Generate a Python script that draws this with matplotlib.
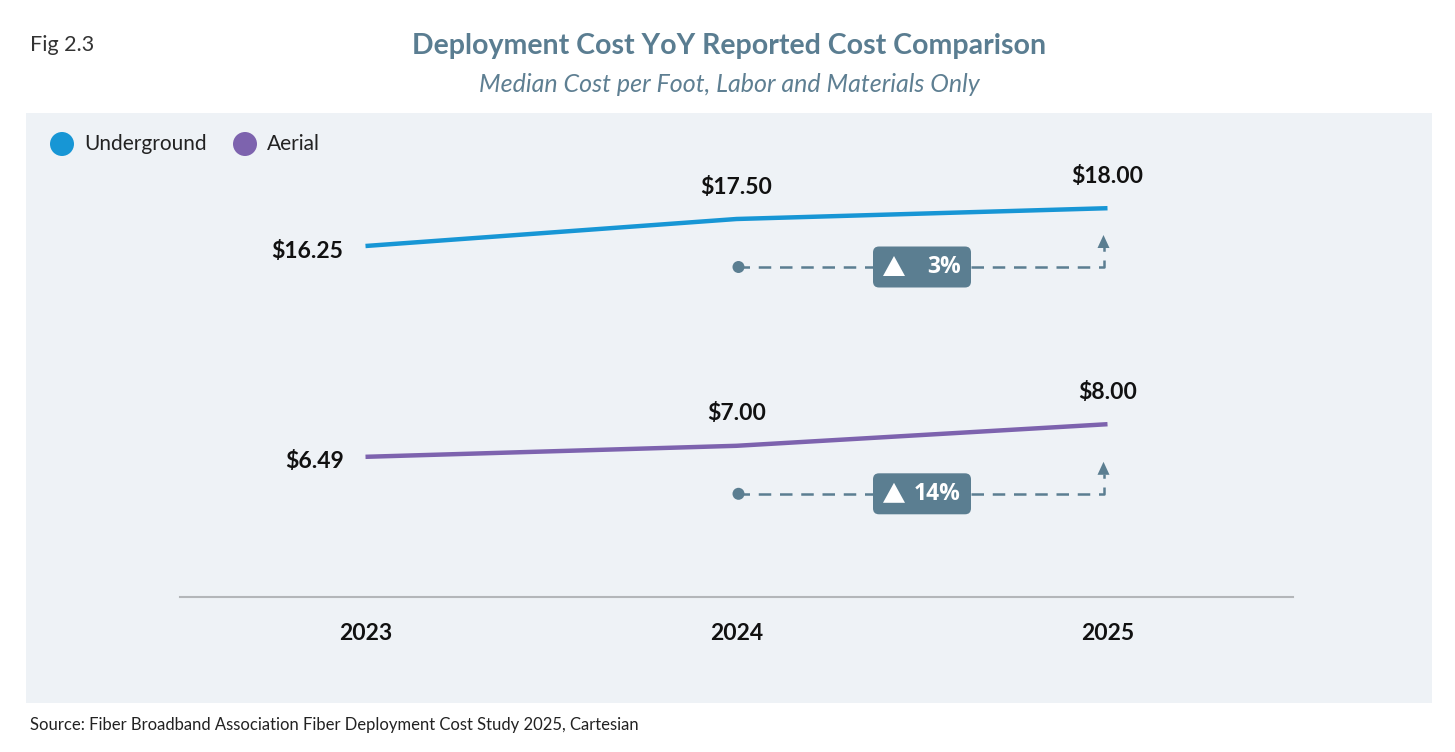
import matplotlib
matplotlib.use("Agg")
import matplotlib.pyplot as plt
from matplotlib.patches import Rectangle, FancyBboxPatch, Polygon, Circle
from matplotlib.lines import Line2D
from matplotlib.transforms import IdentityTransform

plt.rcParams['font.family'] = ['Lato', 'DejaVu Sans']

years = [2023, 2024, 2025]
year_labels = ["2023", "2024", "2025"]
underground = [16.25, 17.50, 18.00]
aerial = [6.49, 7.00, 8.00]
ug_labels = ["$16.25", "$17.50", "$18.00"]
ae_labels = ["$6.49", "$7.00", "$8.00"]
ug_change = "3%"
ae_change = "14%"

BLUE = "#1796d5"
PURPLE = "#7d63ae"
SLATE = "#5b7e91"
PANEL = "#eef2f6"

W, H = 1455, 752
fig = plt.figure(figsize=(W / 100, H / 100), dpi=100)
fig.patch.set_facecolor("white")

def px(x, y):
    return x / W, 1 - y / H

# panel background
fig.patches.append(Rectangle(px(26, 703), (1432 - 26) / W, (703 - 113) / H,
                             transform=fig.transFigure, facecolor=PANEL,
                             edgecolor="none", zorder=-5))

ax = fig.add_axes([180 / W, 1 - 597 / H, 1113 / W, (597 - 113) / H])
ax.set_zorder(1)
ax.set_facecolor("none")
ax.set_xlim(2022.5, 2025.5)
ax.set_ylim(0, (597 - 113) / 21.6)
for s in ["top", "left", "right"]:
    ax.spines[s].set_visible(False)
ax.spines["bottom"].set_color("#b3b6b9")
ax.spines["bottom"].set_linewidth(1.5)
ax.set_yticks([])
ax.set_xticks(years)
ax.set_xticklabels(year_labels, fontsize=16.5, fontweight="bold", color="#111111")
ax.tick_params(axis="x", length=0, pad=19)

ax.plot(years, underground, color=BLUE, lw=3.2, solid_capstyle="butt", zorder=3)
ax.plot(years, aerial, color=PURPLE, lw=3.2, solid_capstyle="butt", zorder=3)

def value_labels(vals, labels):
    for i, (x, v, lab) in enumerate(zip(years, vals, labels)):
        if i == 0:
            ax.annotate(lab, (x, v), xytext=(-22, -5), textcoords="offset pixels",
                        ha="right", va="center", fontsize=16.5, fontweight="bold",
                        color="#111111")
        else:
            ax.annotate(lab, (x, v), xytext=(0, 32), textcoords="offset pixels",
                        ha="center", va="center", fontsize=16.5, fontweight="bold",
                        color="#111111")

value_labels(underground, ug_labels)
value_labels(aerial, ae_labels)

def change_marker(vals, text):
    # anchor: below the 2024 value
    x0, y0 = ax.transData.transform((years[1], vals[1]))
    x1, _ = ax.transData.transform((years[2], vals[2]))
    xc, _ = ax.transData.transform(((years[1] + years[2]) / 2, vals[1]))
    ya = y0 - 48  # display coords (y up)
    x1 = x1 - 4
    tr = IdentityTransform()
    bw, bh = 98, 41
    fig.lines.append(Line2D([x0, xc - bw / 2], [ya, ya], transform=tr, color=SLATE,
                            lw=1.8, dashes=(5, 3.5), zorder=4))
    fig.lines.append(Line2D([xc + bw / 2, x1, x1], [ya, ya, ya + 20], transform=tr,
                            color=SLATE, lw=1.8, dashes=(5, 3.5), zorder=4))
    fig.patches.append(Polygon([[x1 - 6, ya + 19], [x1 + 6, ya + 19], [x1, ya + 32]],
                               closed=True, transform=tr, facecolor=SLATE,
                               edgecolor="none", zorder=5))
    fig.patches.append(Circle((x0 + 2, ya), 6, transform=tr, facecolor=SLATE,
                              edgecolor="none", zorder=5))
    fig.patches.append(FancyBboxPatch((xc - bw / 2 + 5, ya - bh / 2 + 5), bw - 10, bh - 10,
                                      boxstyle="round,pad=5,rounding_size=6",
                                      transform=tr, facecolor=SLATE, edgecolor="none",
                                      zorder=6))
    tx = xc - bw / 2 + 21
    fig.patches.append(Polygon([[tx - 11, ya - 9], [tx + 11, ya - 9], [tx, ya + 11]],
                               closed=True, transform=tr, facecolor="white",
                               edgecolor="none", zorder=7))
    fig.text((xc + bw / 2 - 10) / W, ya / H, text, ha="right", va="center",
             fontsize=16.5, fontweight="bold", color="white", zorder=8,
             family=["Open Sans", "DejaVu Sans"])

change_marker(underground, ug_change)
change_marker(aerial, ae_change)

# titles
fig.text(729 / W, 1 - 46 / H, "Deployment Cost YoY Reported Cost Comparison",
         ha="center", va="center", fontsize=20.5, fontweight="bold", color="#5a7d91")
fig.text(729 / W, 1 - 85 / H, "Median Cost per Foot, Labor and Materials Only",
         ha="center", va="center", fontsize=18, style="italic", color="#5e7f92")
fig.text(30 / W, 1 - 45 / H, "Fig 2.3", ha="left", va="center", fontsize=15.5,
         color="#333333")
fig.text(30 / W, 1 - 725 / H,
         "Source: Fiber Broadband Association Fiber Deployment Cost Study 2025, Cartesian",
         ha="left", va="center", fontsize=12, color="#222222")

# legend
for cx, col, lab in [(62, BLUE, "Underground"), (245, PURPLE, "Aerial")]:
    fig.patches.append(Circle((cx, H - 144), 12, transform=IdentityTransform(),
                              facecolor=col, edgecolor="none", zorder=5))
    fig.text((cx + 22) / W, 1 - 144 / H, lab, ha="left", va="center", fontsize=15,
             color="#222222")

fig.savefig("out.png", dpi=100)
